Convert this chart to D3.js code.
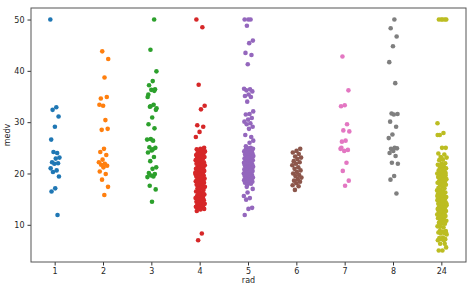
<!DOCTYPE html>
<html>
<head>
<meta charset="utf-8">
<script src="https://cdn.jsdelivr.net/npm/d3@7"></script>
<style>
  body { margin: 0; background: #fff; }
  svg { display: block; font-family: "DejaVu Sans", sans-serif; }
</style>
</head>
<body>
<div id="chart"></div>
<script>
// categories on the x axis (rad)
const categories = ['1', '2', '3', '4', '5', '6', '7', '8', '24'];

const COLORS = ['#1f77b4', '#ff7f0e', '#2ca02c', '#d62728', '#9467bd',
  '#8c564b', '#e377c2', '#7f7f7f', '#bcbd22'];

// medv values per rad group
const rad1 = [50.0, 32.9, 32.4, 31.1, 29.1, 26.6, 24.0, 24.2, 23.1, 22.9,
  22.2, 22.0, 21.9, 21.0, 20.6, 20.3, 19.4, 17.1, 16.5, 11.9];

const rad2 = [43.8, 42.3, 38.7, 34.6, 34.9, 33.2, 33.4, 30.4, 28.5, 28.7,
  24.8, 24.2, 23.6, 22.7, 22.2, 21.9, 21.7, 21.5, 21.2, 20.4, 19.9, 18.8, 17.4, 15.8];

const rad3 = [50.0, 44.1, 39.9, 38.0, 37.2, 36.4, 36.3, 34.9, 33.4, 33.0,
  32.4, 30.9, 29.6, 28.8, 26.7, 26.6, 26.4, 25.1, 25.0, 24.5,
  24.1, 23.2, 22.4, 21.2, 20.9, 20.1, 19.9, 19.6, 19.3, 19.4,
  17.6, 16.9, 14.5, 35.4, 36.1, 33.1, 32.7, 24.7];

const rad4 = [50.0, 48.5, 37.3, 33.2, 32.5, 29.4, 29.1, 28.1, 27.1, 8.3, 7.0,
  25.0, 24.8, 24.7, 24.5, 24.4, 24.3, 24.1, 24.0, 23.9, 23.8,
  23.6, 23.4, 23.3, 23.2, 23.1, 23.0, 22.9, 22.8, 22.6, 22.5,
  22.3, 22.2, 22.0, 21.9, 21.8, 21.7, 21.6, 21.4, 21.2, 21.1,
  21.0, 20.9, 20.8, 20.6, 20.5, 20.4, 20.3, 20.1, 20.0, 19.9,
  19.8, 19.7, 19.6, 19.5, 19.4, 19.3, 19.1, 19.0, 18.9, 18.8,
  18.7, 18.6, 18.5, 18.4, 18.3, 18.2, 18.0, 17.8, 17.7, 17.5,
  17.4, 17.2, 17.1, 16.8, 16.6, 16.5, 16.2, 16.1, 15.9, 15.7,
  15.6, 15.4, 15.3, 15.2, 15.0, 14.9, 14.8, 14.6, 14.5, 14.4,
  14.3, 14.1, 14.0, 13.9, 13.8, 13.6, 13.5, 13.4, 13.3, 13.1,
  13.0, 12.7, 21.5, 22.7, 20.2, 19.2, 17.9, 16.0, 13.2];

const rad5 = [50.0, 50.0, 50.0, 48.8, 45.9, 45.4, 43.5, 43.1, 41.3, 36.5,
  36.4, 36.2, 36.0, 35.4, 35.1, 34.9, 34.0, 32.1, 31.6, 31.5,
  30.8, 30.5, 30.1, 29.8, 29.6, 29.1, 28.7, 27.5, 27.1, 16.3,
  15.6, 15.2, 14.9, 13.3, 13.1, 11.9,
  25.0, 25.0, 24.8, 24.7, 24.6, 24.5, 24.4, 24.3, 24.1, 24.0,
  23.9, 23.8, 23.7, 23.6, 23.5, 23.4, 23.3, 23.2, 23.1, 23.0,
  22.9, 22.8, 22.7, 22.6, 22.5, 22.4, 22.3, 22.2, 22.1, 22.0,
  21.9, 21.8, 21.7, 21.6, 21.5, 21.4, 21.3, 21.2, 21.1, 21.0,
  20.9, 20.8, 20.7, 20.6, 20.5, 20.4, 20.3, 20.2, 20.1, 20.0,
  19.9, 19.8, 19.7, 19.6, 19.5, 19.4, 19.3, 19.2, 19.1, 19.0,
  18.9, 18.8, 18.7, 18.6, 18.5, 18.4, 18.3, 18.2, 18.0, 17.8,
  26.4, 26.0, 25.3, 24.2, 23.1, 22.0, 20.6, 17.4, 17.0];

const rad6 = [24.8, 24.4, 24.1, 23.8, 23.3, 23.1, 22.8, 22.4, 22.2, 21.9,
  21.6, 21.2, 20.9, 20.6, 20.3, 20.0, 19.7, 19.5, 19.2, 18.9,
  18.6, 18.4, 18.1, 17.7, 17.5, 16.8];

const rad7 = [42.8, 36.2, 33.3, 33.1, 29.6, 28.4, 28.2, 26.4, 26.2, 24.6,
  24.4, 24.8, 22.1, 20.5, 18.6, 17.6, 25.0];

const rad8 = [50.0, 48.3, 46.7, 44.8, 41.7, 37.6, 31.7, 31.6, 31.5, 30.1,
  29.1, 27.6, 26.9, 25.0, 24.8, 24.9, 24.4, 24.0, 23.4, 22.1,
  21.9, 19.5, 18.8, 16.1];

const rad24 = [50.0, 50.0, 50.0, 50.0, 50.0, 29.8, 27.9, 27.5, 25.0, 25.0,
  23.9, 23.7, 23.2, 23.1, 22.7, 22.6, 22.0, 21.9, 21.7, 21.4,
  21.2, 21.0, 20.8, 20.6, 20.4, 20.2, 20.0, 19.9, 19.7, 19.6,
  19.4, 19.3, 19.1, 19.0, 18.9, 18.7, 18.5, 18.4, 18.3, 18.2,
  18.0, 17.9, 17.8, 17.5, 17.2, 17.1, 16.8, 16.7, 16.5, 16.4,
  16.3, 16.1, 16.0, 15.7, 15.6, 15.4, 15.2, 15.1, 15.0, 14.9,
  14.8, 14.6, 14.5, 14.4, 14.3, 14.1, 14.0, 13.9, 13.8, 13.6,
  13.5, 13.4, 13.3, 13.1, 13.0, 12.8, 12.7, 12.6, 12.5, 12.3,
  12.1, 12.0, 11.9, 11.8, 11.7, 11.5, 11.3, 11.0, 10.9, 10.8,
  10.5, 10.4, 10.2, 10.2, 9.7, 9.5, 8.8, 8.8, 8.7, 8.5,
  8.4, 8.3, 8.1, 7.5, 7.4, 7.2, 7.2, 7.0, 7.0, 6.3,
  5.6, 5.0, 5.0, 6.3, 13.4, 15.6, 17.8, 19.1, 20.1, 21.5,
  13.1, 10.5, 12.7, 14.1, 14.9, 16.6, 19.9, 23.0, 27.5, 11.7,
  9.6, 8.5];

const groups = [rad1, rad2, rad3, rad4, rad5, rad6, rad7, rad8, rad24];
const yTicks = [10, 20, 30, 40, 50];

const width = 474;
const height = 290;
const margin = { top: 8, right: 8, bottom: 28, left: 31 };

const svg = d3.select('#chart')
  .append('svg')
  .attr('width', width)
  .attr('height', height);

const x = d3.scaleBand()
  .domain(categories)
  .range([margin.left, width - margin.right])
  .padding(0);

const y = d3.scaleLinear()
  .domain([2.75, 52.25])
  .range([height - margin.bottom, margin.top]);

// flatten into points; jitter is a fixed low-discrepancy offset (like seaborn's +-0.1)
const points = [];
groups.forEach((vals, gi) => {
  vals.forEach((v, i) => {
    const j = ((i * 0.6180339887 + gi * 0.37) % 1) - 0.5;
    points.push({ cat: categories[gi], value: v, jitter: j * 0.2, color: COLORS[gi] });
  });
});

svg.append('g')
  .selectAll('circle')
  .data(points)
  .join('circle')
  .attr('cx', d => x(d.cat) + x.bandwidth() / 2 + d.jitter * x.bandwidth())
  .attr('cy', d => y(d.value))
  .attr('r', 2.3)
  .attr('fill', d => d.color);

// axes
const xAxis = svg.append('g')
  .attr('transform', `translate(0,${height - margin.bottom})`)
  .call(d3.axisBottom(x).tickSize(3.5).tickPadding(3));

const yAxis = svg.append('g')
  .attr('transform', `translate(${margin.left},0)`)
  .call(d3.axisLeft(y).tickValues(yTicks).tickSize(3.5).tickPadding(3));

[xAxis, yAxis].forEach(a => {
  a.selectAll('text').attr('font-size', 8).attr('fill', '#262626')
    .attr('font-family', '"DejaVu Sans", sans-serif');
  a.selectAll('line').attr('stroke', '#333');
  a.select('.domain').remove();
});

// frame
svg.append('rect')
  .attr('x', margin.left)
  .attr('y', margin.top)
  .attr('width', width - margin.left - margin.right)
  .attr('height', height - margin.top - margin.bottom)
  .attr('fill', 'none')
  .attr('stroke', '#555')
  .attr('stroke-width', 1);

// labels
svg.append('text')
  .attr('x', margin.left + (width - margin.left - margin.right) / 2)
  .attr('y', 283)
  .attr('text-anchor', 'middle')
  .attr('font-size', 8)
  .attr('fill', '#262626')
  .text('rad');

svg.append('text')
  .attr('transform', `translate(10,${margin.top + (height - margin.top - margin.bottom) / 2}) rotate(-90)`)
  .attr('text-anchor', 'middle')
  .attr('font-size', 8)
  .attr('fill', '#262626')
  .text('medv');
</script>
</body>
</html>
